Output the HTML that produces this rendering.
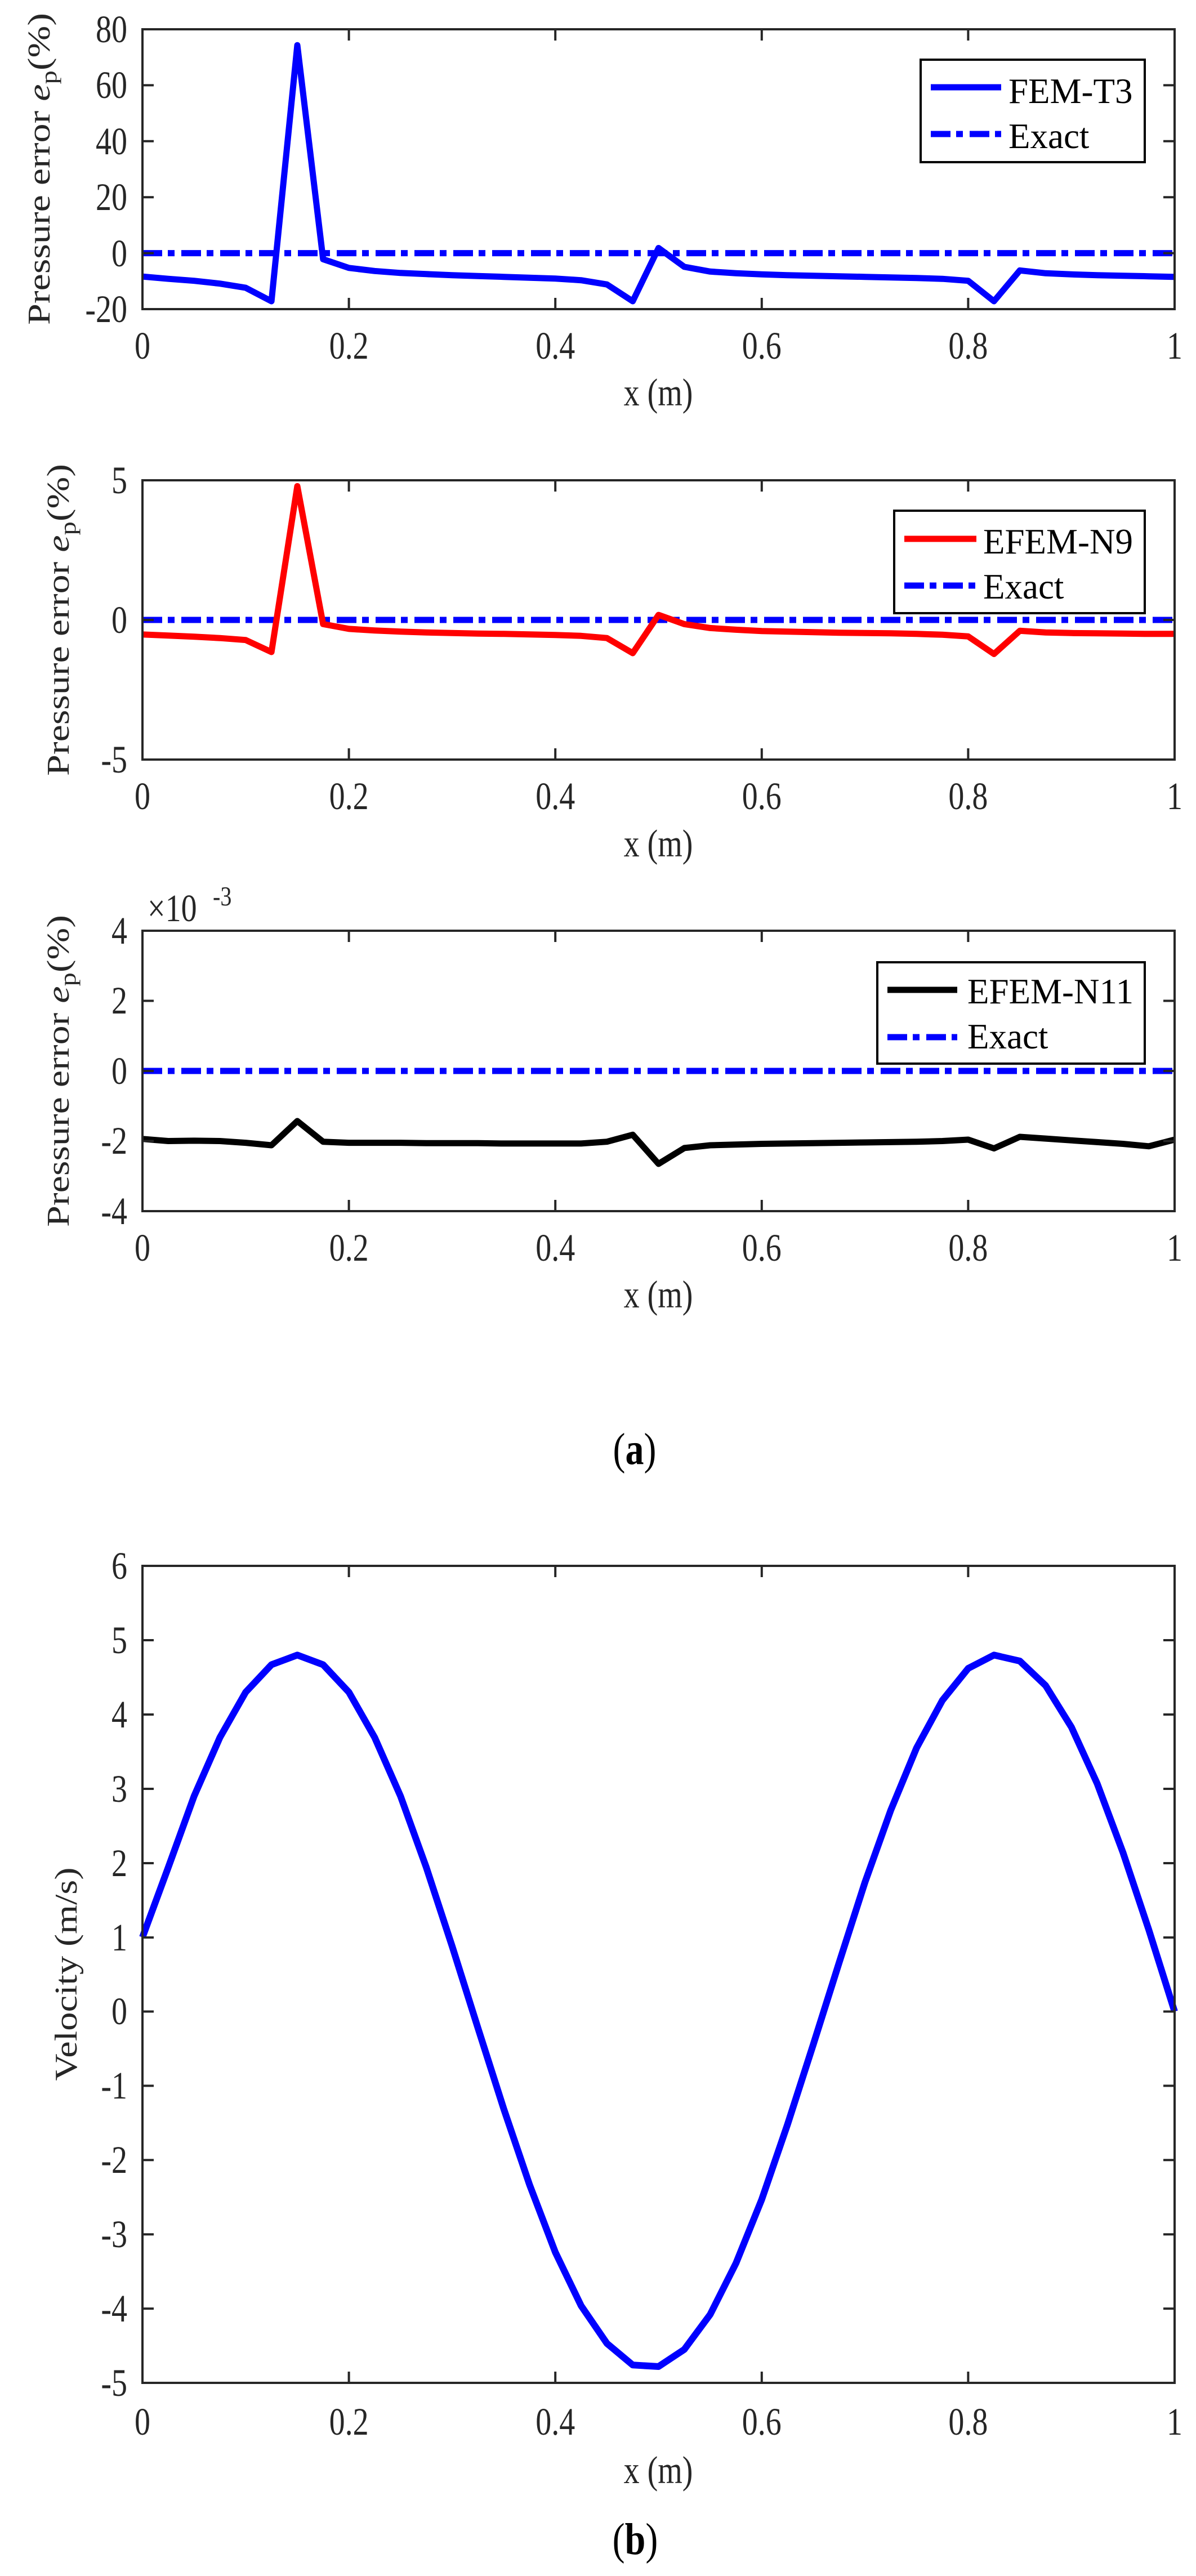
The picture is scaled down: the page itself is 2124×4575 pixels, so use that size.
<!DOCTYPE html>
<html><head><meta charset="utf-8"><style>html,body{margin:0;padding:0;background:#fff}svg{display:block}</style></head>
<body>
<svg width="2124" height="4575" viewBox="0 0 2124 4575" xmlns="http://www.w3.org/2000/svg" font-family="'Liberation Serif', serif" fill="#262626">
<rect width="2124" height="4575" fill="#fff"/>

<!-- ================= PLOT 1 ================= -->
<g>
<line x1="253" y1="449.6" x2="2086" y2="449.6" stroke="#0000ff" stroke-width="11" stroke-dasharray="35 10 12 12"/>
<polyline fill="none" stroke="#0000ff" stroke-width="11" stroke-linejoin="round" points="253,491.2 298.8,495.2 344.7,498.7 390.5,503.7 436.3,511.1 482.1,535 528,80.2 573.8,460.4 619.6,475.8 665.4,481.3 711.3,484.8 757.1,486.8 802.9,488.8 848.7,490.3 894.6,491.7 940.4,493.2 986.2,494.7 1032,497.7 1077.9,505.2 1123.7,535 1169.5,440.5 1215.3,473.9 1261.2,482.3 1307,485.3 1352.8,487.3 1398.6,488.8 1444.5,489.8 1490.3,490.7 1536.1,491.7 1581.9,492.7 1627.8,493.7 1673.6,495.2 1719.4,498.7 1765.2,535 1811.1,480.3 1856.9,485.3 1902.7,487.3 1948.5,488.8 1994.4,489.8 2040.2,490.7 2086,491.7"/>
<rect x="253" y="52" width="1833" height="497" fill="none" stroke="#262626" stroke-width="4"/>
<g stroke="#262626" stroke-width="4">
<path d="M619.6,549v-20M986.2,549v-20M1352.8,549v-20M1719.4,549v-20M619.6,52v20M986.2,52v20M1352.8,52v20M1719.4,52v20"/>
<path d="M253,151.4h20M253,250.8h20M253,350.2h20M253,449.6h20M2086,151.4h-20M2086,250.8h-20M2086,350.2h-20M2086,449.6h-20"/>
</g>
<g font-size="56" text-anchor="end">
<text transform="translate(226,75) scale(1,1.22)">80</text>
<text transform="translate(226,174) scale(1,1.22)">60</text>
<text transform="translate(226,274) scale(1,1.22)">40</text>
<text transform="translate(226,373) scale(1,1.22)">20</text>
<text transform="translate(226,473) scale(1,1.22)">0</text>
<text transform="translate(226,572) scale(1,1.22)">-20</text>
</g>
<g font-size="56" text-anchor="middle">
<text transform="translate(253,637) scale(1,1.22)">0</text>
<text transform="translate(619.6,637) scale(1,1.22)">0.2</text>
<text transform="translate(986.2,637) scale(1,1.22)">0.4</text>
<text transform="translate(1352.8,637) scale(1,1.22)">0.6</text>
<text transform="translate(1719.4,637) scale(1,1.22)">0.8</text>
<text transform="translate(2086,637) scale(1,1.22)">1</text>
<text transform="translate(1169,720) scale(1,1.22)">x (m)</text>
</g>
<text transform="translate(88,300) rotate(-90)" font-size="56" text-anchor="middle" textLength="554" lengthAdjust="spacingAndGlyphs">Pressure error <tspan font-style="italic">e</tspan><tspan font-size="40" dy="12">p</tspan><tspan dy="-12">(%)</tspan></text>
<rect x="1635" y="106" width="398" height="182" fill="#fff" stroke="#000" stroke-width="4"/>
<line x1="1653" y1="155" x2="1778" y2="155" stroke="#0000ff" stroke-width="11"/>
<line x1="1653" y1="238" x2="1778" y2="238" stroke="#0000ff" stroke-width="11" stroke-dasharray="35 10 12 12"/>
<g font-size="63" fill="#000"><text x="1791" y="183">FEM-T3</text><text x="1791" y="263">Exact</text></g>
</g>

<!-- ================= PLOT 2 ================= -->
<g>
<line x1="253" y1="1101" x2="2086" y2="1101" stroke="#0000ff" stroke-width="11" stroke-dasharray="35 10 12 12"/>
<polyline fill="none" stroke="#ff0000" stroke-width="11" stroke-linejoin="round" points="253,1126.8 298.8,1128.8 344.7,1130.8 390.5,1133.2 436.3,1136.7 482.1,1158 528,863.4 573.8,1108.4 619.6,1116.9 665.4,1119.8 711.3,1121.8 757.1,1123.3 802.9,1124.3 848.7,1125.3 894.6,1125.8 940.4,1126.8 986.2,1127.8 1032,1129.3 1077.9,1133.2 1123.7,1160 1169.5,1092.1 1215.3,1108.4 1261.2,1115.4 1307,1118.4 1352.8,1120.8 1398.6,1121.8 1444.5,1122.8 1490.3,1123.8 1536.1,1124.3 1581.9,1124.8 1627.8,1125.8 1673.6,1127.3 1719.4,1130.3 1765.2,1161.5 1811.1,1120.3 1856.9,1123.3 1902.7,1124.3 1948.5,1124.8 1994.4,1125.3 2040.2,1125.8 2086,1125.8"/>
<rect x="253" y="853" width="1833" height="496" fill="none" stroke="#262626" stroke-width="4"/>
<g stroke="#262626" stroke-width="4">
<path d="M619.6,1349v-20M986.2,1349v-20M1352.8,1349v-20M1719.4,1349v-20M619.6,853v20M986.2,853v20M1352.8,853v20M1719.4,853v20"/>
<path d="M253,1101h20M2086,1101h-20"/>
</g>
<g font-size="56" text-anchor="end">
<text transform="translate(226,876) scale(1,1.22)">5</text>
<text transform="translate(226,1124) scale(1,1.22)">0</text>
<text transform="translate(226,1372) scale(1,1.22)">-5</text>
</g>
<g font-size="56" text-anchor="middle">
<text transform="translate(253,1437) scale(1,1.22)">0</text>
<text transform="translate(619.6,1437) scale(1,1.22)">0.2</text>
<text transform="translate(986.2,1437) scale(1,1.22)">0.4</text>
<text transform="translate(1352.8,1437) scale(1,1.22)">0.6</text>
<text transform="translate(1719.4,1437) scale(1,1.22)">0.8</text>
<text transform="translate(2086,1437) scale(1,1.22)">1</text>
<text transform="translate(1169,1521) scale(1,1.22)">x (m)</text>
</g>
<text transform="translate(122,1101) rotate(-90)" font-size="56" text-anchor="middle" textLength="554" lengthAdjust="spacingAndGlyphs">Pressure error <tspan font-style="italic">e</tspan><tspan font-size="40" dy="12">p</tspan><tspan dy="-12">(%)</tspan></text>
<rect x="1588" y="907" width="445" height="182" fill="#fff" stroke="#000" stroke-width="4"/>
<line x1="1606" y1="957" x2="1734" y2="957" stroke="#ff0000" stroke-width="11"/>
<line x1="1606" y1="1040" x2="1734" y2="1040" stroke="#0000ff" stroke-width="11" stroke-dasharray="35 10 12 12"/>
<g font-size="63" fill="#000"><text x="1746" y="983">EFEM-N9</text><text x="1746" y="1063">Exact</text></g>
</g>

<!-- ================= PLOT 3 ================= -->
<g>
<line x1="253" y1="1902" x2="2086" y2="1902" stroke="#0000ff" stroke-width="11" stroke-dasharray="35 10 12 12"/>
<polyline fill="none" stroke="#000" stroke-width="11" stroke-linejoin="round" points="253,2022.8 298.8,2026.5 344.7,2025.9 390.5,2026.5 436.3,2029.6 482.1,2034 528,1991 573.8,2027.7 619.6,2029.6 665.4,2029.6 711.3,2029.6 757.1,2030.2 802.9,2030.2 848.7,2030.2 894.6,2030.9 940.4,2030.9 986.2,2030.9 1032,2030.9 1077.9,2027.7 1123.7,2015.3 1169.5,2067 1215.3,2038.9 1261.2,2034 1307,2032.7 1352.8,2031.5 1398.6,2030.9 1444.5,2030.2 1490.3,2029.6 1536.1,2029 1581.9,2028.4 1627.8,2027.7 1673.6,2026.5 1719.4,2024 1765.2,2039.6 1811.1,2019 1856.9,2022.1 1902.7,2025.3 1948.5,2028.4 1994.4,2031.5 2040.2,2035.8 2086,2024"/>
<rect x="253" y="1653" width="1833" height="498" fill="none" stroke="#262626" stroke-width="4"/>
<g stroke="#262626" stroke-width="4">
<path d="M619.6,2151v-20M986.2,2151v-20M1352.8,2151v-20M1719.4,2151v-20M619.6,1653v20M986.2,1653v20M1352.8,1653v20M1719.4,1653v20"/>
<path d="M253,1777.5h20M253,1902h20M253,2026.5h20M2086,1777.5h-20M2086,1902h-20M2086,2026.5h-20"/>
</g>
<g font-size="56" text-anchor="end">
<text transform="translate(226,1676) scale(1,1.22)">4</text>
<text transform="translate(226,1800) scale(1,1.22)">2</text>
<text transform="translate(226,1925) scale(1,1.22)">0</text>
<text transform="translate(226,2049) scale(1,1.22)">-2</text>
<text transform="translate(226,2174) scale(1,1.22)">-4</text>
</g>
<text transform="translate(262,1636) scale(1,1.22)" font-size="56">×10</text>
<text transform="translate(378,1608) scale(1,1.22)" font-size="40">-3</text>
<g font-size="56" text-anchor="middle">
<text transform="translate(253,2239) scale(1,1.22)">0</text>
<text transform="translate(619.6,2239) scale(1,1.22)">0.2</text>
<text transform="translate(986.2,2239) scale(1,1.22)">0.4</text>
<text transform="translate(1352.8,2239) scale(1,1.22)">0.6</text>
<text transform="translate(1719.4,2239) scale(1,1.22)">0.8</text>
<text transform="translate(2086,2239) scale(1,1.22)">1</text>
<text transform="translate(1169,2322) scale(1,1.22)">x (m)</text>
</g>
<text transform="translate(122,1902) rotate(-90)" font-size="56" text-anchor="middle" textLength="554" lengthAdjust="spacingAndGlyphs">Pressure error <tspan font-style="italic">e</tspan><tspan font-size="40" dy="12">p</tspan><tspan dy="-12">(%)</tspan></text>
<rect x="1558" y="1709" width="475" height="180" fill="#fff" stroke="#000" stroke-width="4"/>
<line x1="1576" y1="1758" x2="1700" y2="1758" stroke="#000" stroke-width="11"/>
<line x1="1576" y1="1842" x2="1700" y2="1842" stroke="#0000ff" stroke-width="11" stroke-dasharray="35 10 12 12"/>
<g font-size="63" fill="#000"><text x="1718" y="1782">EFEM-N11</text><text x="1718" y="1862">Exact</text></g>
</g>

<text transform="translate(1127,2600) scale(1,1.2)" font-size="66" text-anchor="middle" fill="#000">(<tspan font-weight="bold">a</tspan>)</text>

<!-- ================= PLOT 4 ================= -->
<g>
<polyline fill="none" stroke="#0000ff" stroke-width="12" stroke-linejoin="round" points="253,3440.6 298.8,3316.6 344.7,3190 390.5,3085.8 436.3,3005.3 482.1,2956.5 528,2939.4 573.8,2956.5 619.6,3005.3 665.4,3085.8 711.3,3190 757.1,3316.6 802.9,3456.4 848.7,3601.5 894.6,3745.3 940.4,3880 986.2,4000 1032,4095 1077.9,4162 1123.7,4200.3 1169.5,4203 1215.3,4172.6 1261.2,4110.6 1307,4019.6 1352.8,3906.2 1398.6,3773 1444.5,3630.5 1490.3,3485.4 1536.1,3343 1581.9,3215 1627.8,3104.2 1673.6,3019.8 1719.4,2963.1 1765.2,2939.4 1811.1,2950 1856.9,2993.5 1902.7,3067.3 1948.5,3167.6 1994.4,3290.3 2040.2,3427.4 2086,3572.5"/>
<rect x="253" y="2781" width="1833" height="1451" fill="none" stroke="#262626" stroke-width="4"/>
<g stroke="#262626" stroke-width="4">
<path d="M619.6,4232v-20M986.2,4232v-20M1352.8,4232v-20M1719.4,4232v-20M619.6,2781v20M986.2,2781v20M1352.8,2781v20M1719.4,2781v20"/>
<path d="M253,2913h20M253,3045h20M253,3177h20M253,3309h20M253,3441h20M253,3572.5h20M253,3704.4h20M253,3836.3h20M253,3968.2h20M253,4100.1h20"/>
<path d="M2086,2913h-20M2086,3045h-20M2086,3177h-20M2086,3309h-20M2086,3441h-20M2086,3572.5h-20M2086,3704.4h-20M2086,3836.3h-20M2086,3968.2h-20M2086,4100.1h-20"/>
</g>
<g font-size="56" text-anchor="end">
<text transform="translate(226,2804) scale(1,1.22)">6</text>
<text transform="translate(226,2936) scale(1,1.22)">5</text>
<text transform="translate(226,3068) scale(1,1.22)">4</text>
<text transform="translate(226,3200) scale(1,1.22)">3</text>
<text transform="translate(226,3332) scale(1,1.22)">2</text>
<text transform="translate(226,3464) scale(1,1.22)">1</text>
<text transform="translate(226,3595) scale(1,1.22)">0</text>
<text transform="translate(226,3727) scale(1,1.22)">-1</text>
<text transform="translate(226,3859) scale(1,1.22)">-2</text>
<text transform="translate(226,3991) scale(1,1.22)">-3</text>
<text transform="translate(226,4123) scale(1,1.22)">-4</text>
<text transform="translate(226,4255) scale(1,1.22)">-5</text>
</g>
<g font-size="56" text-anchor="middle">
<text transform="translate(253,4324) scale(1,1.22)">0</text>
<text transform="translate(619.6,4324) scale(1,1.22)">0.2</text>
<text transform="translate(986.2,4324) scale(1,1.22)">0.4</text>
<text transform="translate(1352.8,4324) scale(1,1.22)">0.6</text>
<text transform="translate(1719.4,4324) scale(1,1.22)">0.8</text>
<text transform="translate(2086,4324) scale(1,1.22)">1</text>
<text transform="translate(1169,4410) scale(1,1.22)">x (m)</text>
</g>
<text transform="translate(136,3506) rotate(-90)" font-size="56" text-anchor="middle" textLength="379" lengthAdjust="spacingAndGlyphs">Velocity (m/s)</text>
</g>

<text transform="translate(1128,4536) scale(1,1.2)" font-size="66" text-anchor="middle" fill="#000">(<tspan font-weight="bold">b</tspan>)</text>
</svg>
</body></html>
